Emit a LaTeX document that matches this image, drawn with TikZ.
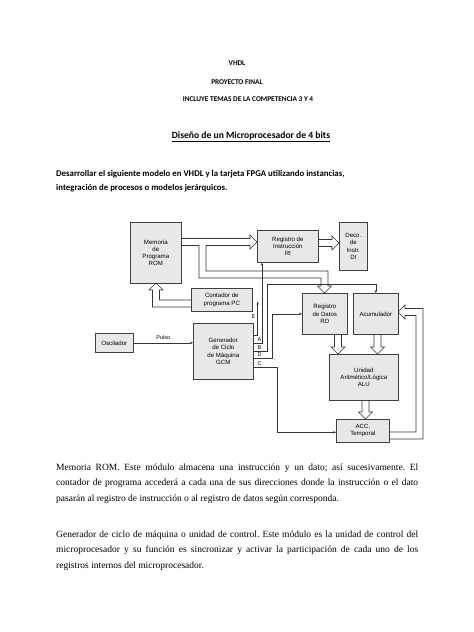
\documentclass[tikz,border=0pt]{standalone}
\usepackage{fontspec}
\setmainfont{Liberation Serif}
\newfontfamily\hdr{Carlito}
\newfontfamily\dsans{Liberation Sans}
\usetikzlibrary{arrows.meta}
\frenchspacing
\begin{document}
\begin{tikzpicture}[x=1pt,y=-1pt,
  box/.style={draw=black!75, fill=black!9, line width=0.65pt, align=center, inner sep=1pt,
    font=\dsans\fontsize{6.1}{7.2}\selectfont, anchor=north west},
  ctl/.style={draw=black!80, line width=0.55pt, -{Stealth[length=3pt,width=2.4pt]}},
  hol/.style={draw=black!80, line width=0.65pt, line join=miter},
  lbl/.style={font=\dsans\fontsize{5.5}{6}\selectfont, inner sep=0pt},
  hd/.style={font=\hdr\bfseries\fontsize{7.3}{8}\selectfont, inner sep=0pt},
  body/.style={font=\fontsize{9.5}{11}\selectfont, inner sep=0pt, anchor=base west}]
\useasboundingbox (0,0) rectangle (474,632);
\fill[white] (0,0) rectangle (474,632);

% headers
\node[hd] (h1) at (237,63) {VHDL};
\node[hd] (h2) at (237,82) {PROYECTO FINAL};
\node[hd] (h3) at (248,99) {INCLUYE TEMAS DE LA COMPETENCIA 3 Y 4};
\node[font=\hdr\bfseries\fontsize{9.6}{11}\selectfont, inner sep=0pt] (title) at (251,137) {\underline{Diseño de un Microprocesador de 4 bits}};
\node[font=\hdr\bfseries\fontsize{8.8}{10}\selectfont, inner sep=0pt, anchor=base west] (i1) at (56,176) {Desarrollar el siguiente modelo en VHDL y la tarjeta FPGA utilizando instancias,};
\node[font=\hdr\bfseries\fontsize{8.8}{10}\selectfont, inner sep=0pt, anchor=base west] (i2) at (56,190) {integración de procesos o modelos jerárquicos.};

% boxes
\node[box, minimum width=51pt, minimum height=61pt] (rom) at (130,222) {Memoria\\de\\Programa\\ROM};
\node[box, minimum width=61pt, minimum height=23pt] (pc) at (191,288) {Contador de\\programa PC};
\node[box, minimum width=61pt, minimum height=32pt] (ri) at (257,230) {Registro de\\Instrucción\\RI};
\node[box, minimum width=28pt, minimum height=48pt, inner sep=0.5pt] (di) at (339,222) {Deco.\\de\\Instr.\\DI};
\node[box, minimum width=45pt, minimum height=41pt] (rd) at (302,293) {Registro\\de Datos\\RD};
\node[box, minimum width=45pt, minimum height=41pt] (acc) at (353,293) {Acumulador};
\node[box, minimum width=69pt, minimum height=46pt] (alu) at (329,354) {Unidad\\Aritmético/Lógica\\ALU};
\node[box, minimum width=53pt, minimum height=23pt] (tmp) at (336,419) {ACC.\\Temporal};
\node[box, minimum width=38pt, minimum height=19pt] (osc) at (95,333) {Oscilador};
\node[box, minimum width=60pt, minimum height=56pt] (gcm) at (193,323) {Generador\\de Ciclo\\de Máquina\\GCM};

% hollow (wide) arrows
% ROM -> RI with branch to RD
\draw[hol] (181,238.5) -- (250,238.5) -- (250,235) -- (257,242) -- (250,249) -- (250,245.5)
  -- (206,245.5) -- (206,271) -- (328,271) -- (328,286) -- (331.5,286) -- (324.5,293)
  -- (317.5,286) -- (321,286) -- (321,278) -- (199,278) -- (199,245.5) -- (181,245.5);
% RI -> DI
\draw[hol] (318,239.5) -- (332,239.5) -- (332,236) -- (339,243) -- (332,250) -- (332,246.5) -- (318,246.5);
% PC -> ROM
\draw[hol] (191,300) -- (159.5,300) -- (159.5,290) -- (163,290) -- (156,283) -- (149,290)
  -- (152.5,290) -- (152.5,307) -- (191,307);
% RD -> ALU
\draw[hol] (334.5,334) -- (334.5,347) -- (331,347) -- (338,354) -- (345,347) -- (341.5,347) -- (341.5,334);
% Acumulador -> ALU
\draw[hol] (374,334) -- (374,347) -- (370.5,347) -- (377.5,354) -- (384.5,347) -- (381,347) -- (381,334);
% ALU -> ACC Temporal
\draw[hol] (362,400) -- (362,412) -- (358.5,412) -- (365.5,419) -- (372.5,412) -- (369,412) -- (369,400);
% ACC Temporal -> Acumulador
\draw[hol] (389,432) -- (416,432) -- (416,315.5) -- (405,315.5) -- (405,319) -- (398,312)
  -- (405,305) -- (405,308.5) -- (423,308.5) -- (423,439) -- (389,439);

% control lines
\coordinate (bk) at (267,284);
\draw[ctl] (osc.east) -- (osc.east -| gcm.west) node[lbl, midway, above=3pt] (pulso) {Pulso};
\draw[ctl] ([yshift=-12pt]gcm.north east) -| ([xshift=5pt,yshift=10pt]pc.south east);
\draw[ctl] ([yshift=-20pt]gcm.north east) -| ([xshift=5pt]ri.south west);
\draw[ctl] ([yshift=-28pt]gcm.north east) -| (bk) -| (acc.north);
\draw[ctl] ([yshift=-35pt]gcm.north east) -| ([xshift=-30pt]rd.west) -- (rd.west);
\draw[ctl] ([yshift=-44pt]gcm.north east) -| ([xshift=-59pt,yshift=-1.5pt]tmp.west) -- ([yshift=-1.5pt]tmp.west);

\node[lbl] (le) at (253.5,317) {E};
\node[lbl] (la) at (259.5,339.5) {A};
\node[lbl] (lb) at (259.5,347.5) {B};
\node[lbl] (ld) at (259.5,354.5) {D};
\node[lbl] (lc) at (259.5,363.5) {C};

% body text
\node[body] (p1) at (56,470) {\makebox[362pt][s]{Memoria ROM. Este módulo almacena una instrucción y un dato; así sucesivamente. El}};
\node[body] (p2) at (56,485.5) {\makebox[362pt][s]{contador de programa accederá a cada una de sus direcciones donde la instrucción o el dato}};
\node[body] (p3) at (56,501) {pasarán al registro de instrucción o al registro de datos según corresponda.};
\node[body] (q1) at (56,537) {\makebox[362pt][s]{Generador de ciclo de máquina o unidad de control. Este módulo es la unidad de control del}};
\node[body] (q2) at (56,552.5) {\makebox[362pt][s]{microprocesador y su función es sincronizar y activar la participación de cada uno de los}};
\node[body] (q3) at (56,568) {registros internos del microprocesador.};
\end{tikzpicture}
\end{document}
